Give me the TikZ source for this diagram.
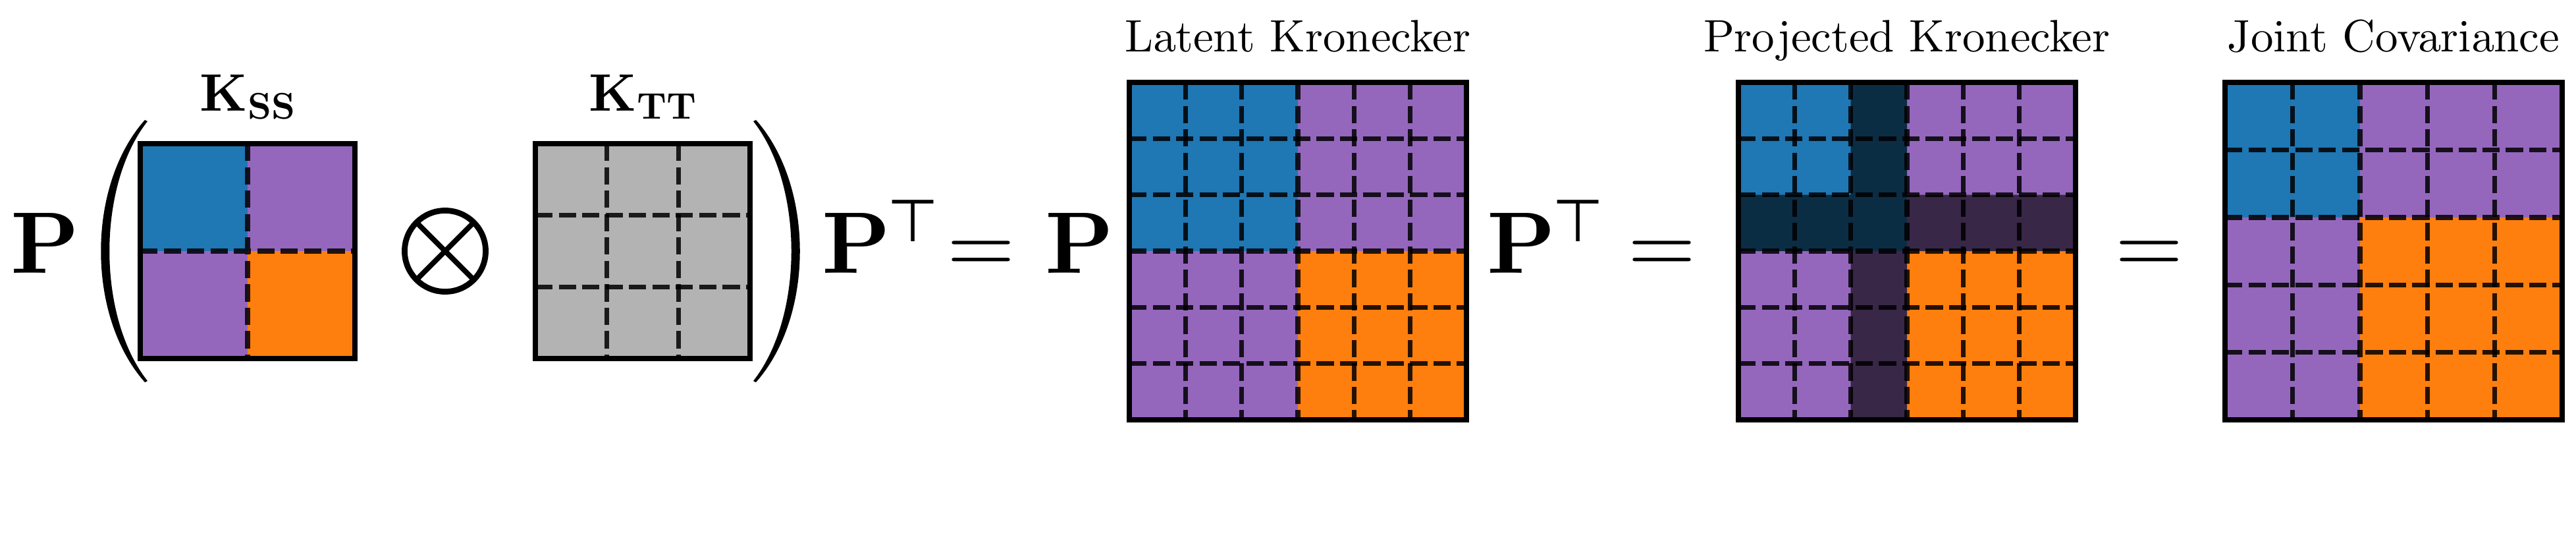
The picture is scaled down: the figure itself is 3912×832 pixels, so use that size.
\documentclass[tikz,border=0pt]{standalone}
\usepackage{fontspec}
\newfontfamily\dejavu{DejaVu Sans}
\usetikzlibrary{positioning}
\definecolor{tabblue}{HTML}{1F77B4}
\definecolor{tabpurple}{HTML}{9467BD}
\definecolor{taborange}{HTML}{FF7F0E}
\definecolor{kgray}{HTML}{B3B3B3}
\font\ttlfont=cmr10 at 19.6pt
\font\pbf=cmbx10 at 37.7pt
\font\eqrm=cmr10 at 37.7pt
\font\kbf=cmbx10 at 22.8pt
\font\ksub=cmbx10 at 16pt
\newcommand{\Pmat}{{\pbf P}}
\newcommand{\Ptr}{{\pbf P}\kern-1.5pt\raise13.6pt\hbox{\dejavu\fontsize{25.5}{30}\selectfont ⊤}}
\newcommand{\Kmat}[1]{{\kbf K}\lower3.6pt\hbox{\ksub #1}}
\begin{document}
\begin{tikzpicture}[x=0.01cm,y=-0.01cm]
\tikzstyle{frame} = [draw, line width=2.2pt, inner sep=0pt, outer sep=0pt]
\tikzstyle{gridline} = [draw=black, draw opacity=0.85, line width=2.1pt, dash pattern=on 7.5pt off 2.6pt]
\tikzstyle{eq} = [inner sep=0pt, font=\eqrm]
\tikzstyle{klbl} = [inner sep=0pt]
\tikzstyle{ttl} = [inner sep=0pt, font=\ttlfont]
\tikzstyle{paren} = [fill=black]

\useasboundingbox (0,0) rectangle (3912,832);

\node[eq, anchor=base] (pleft) at (69,414) {\Pmat};

% left bracket
\fill[paren] (220,182) .. controls (131,282) and (131,480) .. (220,580)
  -- (224,578) .. controls (147,480) and (147,282) .. (224,184) -- cycle;

% K_SS
\fill[tabblue] (213,218) rectangle (376,381);
\fill[tabpurple] (376,218) rectangle (539,381) (213,381) rectangle (376,544);
\fill[taborange] (376,381) rectangle (539,544);
\draw[gridline] (376,218) -- (376,544) (213,381) -- (539,381);
\node[frame, minimum size=3.26cm] (kss) at (376,381) {};
\node[klbl, anchor=base] (ksslbl) at (376,168) {\Kmat{SS}};

\node[circle, draw, line width=2.5pt, minimum size=1.23cm, inner sep=0pt, outer sep=0pt] (kron) at (676,381) {};
\draw[line width=2.3pt] (kron.45) -- (kron.225) (kron.135) -- (kron.315);

% K_TT
\fill[kgray] (813,218) rectangle (1139,544);
\foreach \i in {1,2} {
  \draw[gridline] ({813+\i*108.67},218) -- ++(0,326);
  \draw[gridline] (813,{218+\i*108.67}) -- ++(326,0);
}
\node[frame, minimum size=3.26cm] (ktt) at (976,381) {};
\node[klbl, anchor=base] (kttlbl) at (976,168) {\Kmat{TT}};

% right bracket
\fill[paren] (1148,182) .. controls (1237,282) and (1237,480) .. (1148,580)
  -- (1144,578) .. controls (1221,480) and (1221,282) .. (1144,184) -- cycle;

\node[eq, anchor=base west] (ptrone) at (1248,414) {\Ptr};
\node[eq, anchor=base] (eqone) at (1490,414) {=};
\node[eq, anchor=base] (pmid) at (1640,414) {\Pmat};

% latent kronecker
\fill[tabblue] (1715,125) rectangle (1971,381);
\fill[tabpurple] (1971,125) rectangle (2227,381) (1715,381) rectangle (1971,637);
\fill[taborange] (1971,381) rectangle (2227,637);
\foreach \i in {1,...,5} {
  \draw[gridline] ({1715+\i*85.33},125) -- ++(0,512);
  \draw[gridline] (1715,{125+\i*85.33}) -- ++(512,0);
}
\node[frame, minimum size=5.12cm] (latent) at (1971,381) {};
\node[ttl, anchor=base] (latentlbl) at (1971,78) {Latent Kronecker};

\node[eq, anchor=base west] (ptrtwo) at (2258,414) {\Ptr};
\node[eq, anchor=base] (eqtwo) at (2524,414) {=};

% projected kronecker
\fill[tabblue] (2640,125) rectangle (2896,381);
\fill[tabpurple] (2896,125) rectangle (3152,381) (2640,381) rectangle (2896,637);
\fill[taborange] (2896,381) rectangle (3152,637);
\fill[black, fill opacity=0.62] (2640,295.67) rectangle (3152,381) (2810.67,125) rectangle (2896,637);
\foreach \i in {1,...,5} {
  \draw[gridline] ({2640+\i*85.33},125) -- ++(0,512);
  \draw[gridline] (2640,{125+\i*85.33}) -- ++(512,0);
}
\node[frame, minimum size=5.12cm] (proj) at (2896,381) {};
\node[ttl, anchor=base] (projlbl) at (2896,78) {Projected Kronecker};

\node[eq, anchor=base] (eqthree) at (3264,414) {=};

% joint covariance
\fill[tabblue] (3379,125) rectangle (3583.8,329.8);
\fill[tabpurple] (3583.8,125) rectangle (3891,329.8) (3379,329.8) rectangle (3583.8,637);
\fill[taborange] (3583.8,329.8) rectangle (3891,637);
\foreach \i in {1,...,4} {
  \draw[gridline] ({3379+\i*102.4},125) -- ++(0,512);
  \draw[gridline] (3379,{125+\i*102.4}) -- ++(512,0);
}
\node[frame, minimum size=5.12cm] (joint) at (3635,381) {};
\node[ttl, anchor=base] (jointlbl) at (3635,78) {Joint Covariance};

\end{tikzpicture}
\end{document}
